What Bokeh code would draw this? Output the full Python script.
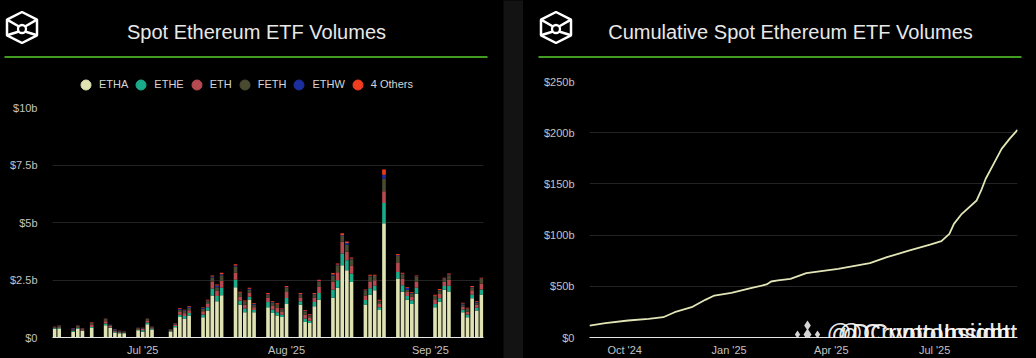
import math
import pandas as pd
from bokeh.plotting import figure
from bokeh.layouts import row, column
from bokeh.models import (Range1d, FixedTicker, DatetimeTickFormatter, Legend, LegendItem,
                          ColumnDataSource, Label)
from bokeh.embed import file_html
from bokeh.resources import INLINE
from bokeh.core.properties import value

FONT = "Liberation Sans"

# ---------------- data: daily volumes ($b) ----------------
dates = [
    "2025-06-12", "2025-06-13", "2025-06-16", "2025-06-17", "2025-06-18", "2025-06-20",
    "2025-06-23", "2025-06-24", "2025-06-25", "2025-06-26", "2025-06-27", "2025-06-30",
    "2025-07-01", "2025-07-02", "2025-07-03", "2025-07-07", "2025-07-08", "2025-07-09",
    "2025-07-10", "2025-07-11", "2025-07-14", "2025-07-15", "2025-07-16", "2025-07-17",
    "2025-07-18", "2025-07-21", "2025-07-22", "2025-07-23", "2025-07-24", "2025-07-25",
    "2025-07-28", "2025-07-29", "2025-07-30", "2025-07-31",
    "2025-08-01", "2025-08-04", "2025-08-05", "2025-08-06", "2025-08-07", "2025-08-08",
    "2025-08-11", "2025-08-12", "2025-08-13", "2025-08-14", "2025-08-15", "2025-08-18",
    "2025-08-19", "2025-08-20", "2025-08-21", "2025-08-22", "2025-08-25", "2025-08-26",
    "2025-08-27", "2025-08-28", "2025-08-29",
    "2025-09-02", "2025-09-03", "2025-09-04", "2025-09-05", "2025-09-08", "2025-09-09",
    "2025-09-10", "2025-09-11", "2025-09-12",
]
etha = [.37, .39, .25, .39, .28, .41, .53, .41, .22, .19, .18, .31,
        .25, .58, .35, .26, .45, .89, .83, .96, .88, 1.17, 1.83, 1.58, 1.84, 2.19, 1.42, 1.10, 1.65, 1.10, 1.32, 1.07, .96, .89,
        1.46, 1.42, .67, .63, 1.36, 1.64, 1.73, 2.16, 3.14, 2.92, 2.41, 1.43, 1.86, 2.05, 1.20, 4.97, 2.56, 1.99, 1.64, 1.46, 1.90,
        1.32, 1.55, 2.08, 2.00, 1.10, .88, 1.71, 1.17, 1.87]
ethe = [.03, .04, .04, .03, .02, .05, .08, .03, .03, .03, .02, .04,
        .06, .07, .04, .03, .05, .10, .10, .10, .12, .14, .30, .22, .32, .32, .18, .16, .12, .10, .22, .15, .14, .10,
        .26, .16, .16, .10, .18, .30, .35, .33, .51, .44, .37, .20, .28, .20, .12, .88, .29, .28, .16, .16, .26,
        .14, .16, .16, .25, .12, .12, .16, .12, .22]
eth = [.03, .04, .03, .03, .06, .10, .10, .07, .03, .02, .02, .04,
       .06, .07, .03, .03, .06, .12, .12, .12, .14, .15, .30, .24, .30, .30, .18, .16, .18, .12, .20, .17, .18, .12,
       .26, .16, .16, .12, .20, .28, .34, .35, .51, .37, .35, .20, .30, .24, .14, .51, .39, .28, .18, .16, .26,
       .20, .18, .18, .26, .12, .12, .18, .13, .25]
feth = [.03, .04, .04, .06, .03, .07, .09, .04, .03, .03, .02, .03,
        .03, .08, .04, .03, .05, .10, .10, .10, .11, .12, .18, .14, .25, .28, .15, .13, .14, .10, .12, .13, .14, .10,
        .18, .12, .15, .10, .12, .22, .28, .30, .25, .30, .27, .20, .22, .18, .12, .54, .30, .20, .10, .13, .22,
        .14, .16, .12, .20, .10, .12, .13, .10, .20]
ethw = [.01, .01, .04, .01, .01, .01, .01, .01, .05, .01, .01, .01,
        .01, .01, .01, .01, .01, .04, .03, .06, .04, .03, .04, .08, .04, .04, .02, .02, .03, .04, .02, .02, .02, .02,
        .03, .02, .02, .02, .02, .02, .04, .03, .04, .08, .03, .02, .02, .02, .02, .18, .04, .02, .07, .02, .02,
        .02, .02, .02, .03, .04, .02, .02, .02, .02]
others = [.01, .01, .01, .01, .01, .02, .02, .01, .01, .01, .01, .01,
          .01, .02, .01, .01, .01, .03, .03, .03, .03, .03, .05, .04, .06, .06, .04, .04, .04, .03, .05, .04, .05, .03,
          .05, .05, .04, .04, .05, .05, .06, .05, .08, .06, .05, .04, .05, .04, .04, .22, .05, .04, .04, .04, .04,
          .04, .04, .04, .04, .03, .03, .04, .04, .04]

series_names = ["ETHA", "ETHE", "ETH", "FETH", "ETHW", "4 Others"]
series_colors = ["#dfe2b2", "#1aab8b", "#b64a50", "#4a4a30", "#1a2e9e", "#f03c1e"]

vol_ticks = [0.0, 2.5, 5.0, 7.5, 10.0]
vol_tick_labels = ["$0", "$2.5b", "$5b", "$7.5b", "$10b"]
left_month_ticks = ["2025-07-01", "2025-08-01", "2025-09-01"]

# ---------------- data: cumulative volume ($b) ----------------
cum_dates = ["2024-08-31", "2024-09-14", "2024-10-04", "2024-10-22", "2024-11-04", "2024-11-14",
             "2024-11-29", "2024-12-11", "2024-12-19", "2025-01-03", "2025-01-21", "2025-02-03",
             "2025-02-07", "2025-02-13", "2025-02-24", "2025-03-10", "2025-04-07", "2025-05-05",
             "2025-05-20", "2025-06-09", "2025-06-27", "2025-07-07", "2025-07-14", "2025-07-18",
             "2025-07-25", "2025-08-07", "2025-08-11", "2025-08-15", "2025-08-22", "2025-08-29",
             "2025-09-05", "2025-09-12"]
cum_values = [11.7, 14.0, 16.6, 18.2, 19.8, 24.7, 29.6, 36.8, 41.0, 43.6, 48.5, 51.8,
              54.7, 55.7, 57.3, 62.8, 67.1, 72.6, 78.4, 85.0, 90.8, 94.1, 101.2, 111.0,
              120.8, 133.8, 143.6, 155.0, 169.6, 184.2, 194.0, 202.8]
cum_ticks = [0.0, 50.0, 100.0, 150.0, 200.0, 250.0]
cum_tick_labels = ["$0", "$50b", "$100b", "$150b", "$200b", "$250b"]
right_month_ticks = ["2024-10-01", "2025-01-01", "2025-04-01", "2025-07-01"]

left_title = "Spot Ethereum ETF Volumes"
right_title = "Cumulative Spot Ethereum ETF Volumes"
watermark_texts = ["@DCryptoInsight", "@CryptoInsight"]

for s in (etha, ethe, eth, feth, ethw, others):
    assert len(s) == len(dates)
assert len(cum_dates) == len(cum_values)

DAY = 86400000.0


def ms(d):
    return pd.Timestamp(d).timestamp() * 1000.0


BG = "#000000"
GAP = "#131313"
GREEN = "#57d12c"
TICK_COLOR = "#c2c2c2"

fmt = "%b '%y"
month_fmt = DatetimeTickFormatter(milliseconds=fmt, seconds=fmt, minsec=fmt, minutes=fmt,
                                  hourmin=fmt, hours=fmt, days=fmt, months=fmt, years=fmt)


def make_header(width, height, title, logo_cx, title_cx, line_x0, line_x1):
    h = figure(width=width, height=height, x_range=Range1d(0, width), y_range=Range1d(height, 0),
               x_axis_type=None, y_axis_type=None, output_backend="svg", toolbar_location=None,
               min_border=0)
    h.grid.visible = False
    h.outline_line_color = None
    h.background_fill_color = BG
    h.border_fill_color = BG
    cy = 27.0
    hx = [logo_cx, logo_cx + 15, logo_cx + 15, logo_cx, logo_cx - 15, logo_cx - 15]
    hy = [cy - 15.5, cy - 7.8, cy + 7.8, cy + 15.5, cy + 7.8, cy - 7.8]
    h.patch(hx, hy, fill_alpha=0, line_color="white", line_width=2.5)
    h.segment(x0=[logo_cx - 15, logo_cx + 15, logo_cx - 15, logo_cx + 15],
              y0=[cy - 7.8, cy - 7.8, cy + 7.8, cy + 7.8],
              x1=[logo_cx - 3, logo_cx + 3, logo_cx - 3, logo_cx + 3],
              y1=[cy - 1.0, cy - 1.0, cy + 4.0, cy + 4.0], line_color="white", line_width=2.5)
    h.scatter(x=[logo_cx], y=[cy + 1.5], marker="circle", size=8, fill_alpha=0,
              line_color="white", line_width=2.3)
    h.text(x=[title_cx], y=[31], text=[title], text_align="center", text_baseline="middle",
           text_font=value(FONT), text_font_size="20px", text_color="#e8e8e8")
    h.segment(x0=[line_x0], y0=[56.5], x1=[line_x1], y1=[56.5], line_color=GREEN, line_width=1.5)
    return h


def style_chart(p, ticks, labels, month_ticks):
    p.background_fill_color = BG
    p.border_fill_color = BG
    p.outline_line_color = None
    p.xgrid.grid_line_color = None
    p.ygrid.grid_line_color = "#232323"
    p.yaxis.ticker = FixedTicker(ticks=ticks)
    p.yaxis.major_label_overrides = dict(zip(ticks, labels))
    p.yaxis.axis_line_color = None
    p.yaxis.major_tick_line_color = None
    p.yaxis.minor_tick_line_color = None
    p.yaxis.major_tick_out = 0
    p.yaxis.minor_tick_out = 0
    p.yaxis.major_label_standoff = 15
    p.xaxis.ticker = FixedTicker(ticks=[ms(d) for d in month_ticks])
    p.xaxis.formatter = month_fmt
    p.xaxis.axis_line_color = "#e6e6e6"
    p.xaxis.axis_line_width = 1.2
    p.xaxis.major_tick_line_color = None
    p.xaxis.minor_tick_line_color = None
    p.xaxis.major_tick_out = 0
    p.xaxis.minor_tick_out = 0
    p.xaxis.major_label_standoff = 6
    for ax in (p.xaxis, p.yaxis):
        ax.major_label_text_color = TICK_COLOR
        ax.major_label_text_font = FONT
        ax.major_label_text_font_size = "11px"


# ---------------- left panel ----------------
LW = 503
h1 = make_header(LW, 100, left_title, logo_cx=21.5, title_cx=256, line_x0=4, line_x1=487)

items = []
for name, col in zip(series_names, series_colors):
    r = h1.scatter(x=[float("nan")], y=[float("nan")], marker="circle",
                   fill_color=col, line_color=col)
    items.append(LegendItem(label=name, renderers=[r]))
legend = Legend(items=items, orientation="horizontal", location=(73, 3.5),
                glyph_width=25, glyph_height=25, label_height=25, label_standoff=1,
                spacing=0, padding=0, margin=0, background_fill_alpha=0, border_line_alpha=0,
                label_text_color="#d6d6d6", label_text_font=FONT, label_text_font_size="11px")
h1.add_layout(legend)

src = ColumnDataSource(dict(date=pd.to_datetime(dates), ETHA=etha, ETHE=ethe, ETH=eth,
                            FETH=feth, ETHW=ethw, **{"4 Others": others}))
pad = 0.45 * DAY
p1 = figure(width=LW, height=258, x_axis_type="datetime",
            x_range=Range1d(ms(dates[0]) - pad, ms(dates[-1]) + pad),
            y_range=Range1d(vol_ticks[0], vol_ticks[-1]),
            output_backend="svg", toolbar_location=None,
            min_border_left=52, min_border_right=20, min_border_top=7, min_border_bottom=21)
p1.vbar_stack(series_names, x="date", width=0.78 * DAY, color=series_colors, source=src,
              line_color=None)
style_chart(p1, vol_ticks, vol_tick_labels, left_month_ticks)

# ---------------- right panel ----------------
RW = 513
h2 = make_header(RW, 68, right_title, logo_cx=32.5, title_cx=267, line_x0=15, line_x1=498)

x0, x1 = ms(cum_dates[0]), ms(cum_dates[-1])
p2 = figure(width=RW, height=290, x_axis_type="datetime", x_range=Range1d(x0, x1),
            y_range=Range1d(cum_ticks[0], cum_ticks[-1]),
            output_backend="svg", toolbar_location=None,
            min_border_left=66, min_border_right=19, min_border_top=13, min_border_bottom=21)
p2.line(x=pd.to_datetime(cum_dates), y=cum_values, line_color="#e2e5b6", line_width=1.8)
style_chart(p2, cum_ticks, cum_tick_labels, right_month_ticks)


# watermark (decoration), placed by frame pixel position
def px_x(px):
    return x0 + (px - 66) / 428.0 * (x1 - x0)


def px_y(py):
    return (256.0 + 13 - py) / 256.0 * 250.0


for txt, px in zip(watermark_texts, (303, 314)):
    p2.add_layout(Label(x=px_x(px), y=px_y(264), text=txt, text_color="white",
                        text_font=FONT, text_font_size="25px", text_baseline="middle",
                        text_alpha=0.93))
p2.scatter(x=[px_x(274), px_x(284), px_x(294), px_x(284)],
           y=[px_y(266), px_y(266), px_y(266), px_y(257)],
           marker="diamond", size=[8, 12, 8, 10], fill_color="#d4d4d4", line_color=None)

# ---------------- gap ----------------
gap = figure(width=20, height=358, x_axis_type=None, y_axis_type=None,
             output_backend="svg", toolbar_location=None, min_border=0)
gap.background_fill_color = GAP
gap.border_fill_color = GAP
gap.outline_line_color = None
gap.grid.visible = False

left = column(column(h1), p1, spacing=0)
right = column(column(h2), p2, spacing=0)
layout = row(left, gap, right, spacing=0, styles={"background-color": "black"})

open("out.html", "w").write(file_html(layout, INLINE))
